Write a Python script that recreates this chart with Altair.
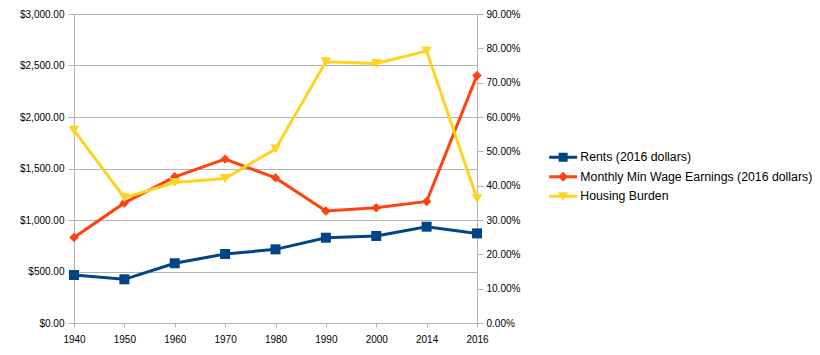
import altair as alt
import pandas as pd

years = ["1940", "1950", "1960", "1970", "1980", "1990", "2000", "2014", "2016"]
rents = [466, 424, 580, 670, 715, 828, 845, 935, 870]
min_wage = [830, 1166, 1419, 1591, 1409, 1088, 1118, 1180, 2404]
housing_burden = [0.561, 0.365, 0.409, 0.421, 0.507, 0.761, 0.756, 0.792, 0.362]

series_names = ["Rents (2016 dollars)", "Monthly Min Wage Earnings (2016 dollars)", "Housing Burden"]
series_colors = ["#004586", "#ff420e", "#ffd320"]
point_shapes = ["square", "diamond", "triangle-down"]
point_sizes = [100, 90, 110]

dollar_ticks = [0, 500, 1000, 1500, 2000, 2500, 3000]
pct_ticks = [0.0, 0.1, 0.2, 0.3, 0.4, 0.5, 0.6, 0.7, 0.8, 0.9]

FONT = "Liberation Sans"
GREY = "#b3b3b3"

df = pd.DataFrame({"year": years, "rent": rents, "wage": min_wage, "burden": housing_burden})

# legend symbols: short line with the marker on it
bar = "M-2.8,-0.3H2.8V0.3H-2.8Z "
legend_paths = [
    bar + "M-0.9,-0.9H0.9V0.9H-0.9Z",
    bar + "M0,-1L1,0L0,1L-1,0Z",
    bar + "M-1,-0.8L1,-0.8L0,0.9Z",
]

x_enc = alt.X(
    "year:O", sort=years,
    scale=alt.Scale(type="point", padding=0),
    axis=alt.Axis(title=None, labelAngle=0, domainColor=GREY, tickColor=GREY,
                  tickSize=4, labelPadding=7, grid=False),
)

left_axis = alt.Axis(title=None, values=dollar_ticks, format="$,.2f", grid=True,
                     gridColor=GREY, domainColor=GREY, tickColor=GREY, tickSize=6,
                     labelPadding=4, orient="left")
left_scale = alt.Scale(domain=[0, 3000], nice=False)

right_axis = alt.Axis(title=None, values=pct_ticks, format=".2%", grid=False,
                      domainColor=GREY, tickColor=GREY, tickSize=6,
                      labelPadding=3, orient="right")
right_scale = alt.Scale(domain=[0, 0.9], nice=False)

base = alt.Chart(df)


def series_layers(field, color, shape, size, axis, scale):
    y = alt.Y(f"{field}:Q", axis=axis, scale=scale)
    line = base.mark_line(color=color, strokeWidth=3).encode(x=x_enc, y=y)
    pts = base.mark_point(color=color, filled=True, opacity=1, shape=shape, size=size).encode(x=x_enc, y=y)
    return [line, pts]


legend_df = pd.DataFrame({"series": series_names})
leg = alt.Legend(title=None, orient="none", legendX=474, legendY=137,
                 labelFont=FONT, labelFontSize=12.3, labelColor="#000000",
                 labelLimit=400, symbolSize=100, symbolStrokeWidth=0,
                 symbolOffset=9, labelOffset=11, rowPadding=6.6, padding=0,
                 symbolOpacity=1)
legend_layer = alt.Chart(legend_df).mark_point(filled=True, opacity=1).encode(
    color=alt.Color("series:N", scale=alt.Scale(domain=series_names, range=series_colors), legend=leg),
    shape=alt.Shape("series:N", scale=alt.Scale(domain=series_names, range=legend_paths), legend=leg),
).transform_filter("false")

left = alt.layer(
    *series_layers("rent", series_colors[0], point_shapes[0], point_sizes[0], left_axis, left_scale),
    *series_layers("wage", series_colors[1], point_shapes[1], point_sizes[1], left_axis, left_scale),
    legend_layer,
)
right = alt.layer(
    *series_layers("burden", series_colors[2], point_shapes[2], point_sizes[2], right_axis, right_scale),
)

chart = alt.layer(left, right).resolve_scale(y="independent").properties(
    width=403, height=309,
    autosize=alt.AutoSizeParams(type="none"),
    padding={"left": 66, "top": 6, "right": 335, "bottom": 24},
).configure_view(stroke=None).configure_axis(
    labelFont=FONT, labelFontSize=12, labelColor="#000000",
).configure(background="white")

chart.save("out.html", embed_options={"renderer": "svg", "actions": False})
